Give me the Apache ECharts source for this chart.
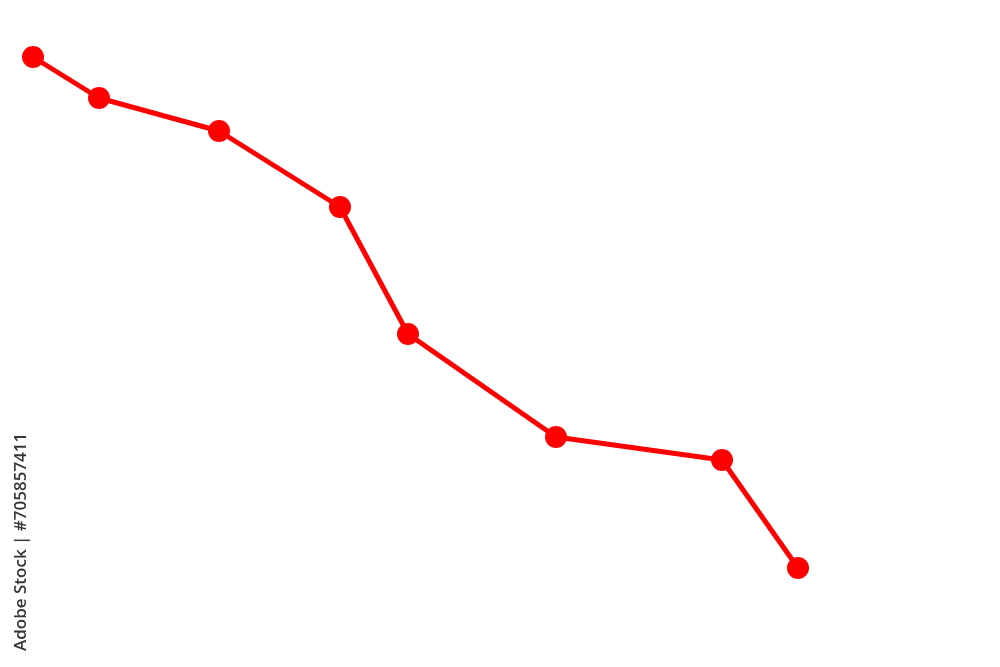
<!DOCTYPE html>
<html><head><meta charset="utf-8">
<script src="https://cdn.jsdelivr.net/npm/echarts@6/dist/echarts.min.js"></script>
<style>html,body{margin:0;padding:0;background:#fff}#c{width:1000px;height:667px}</style>
</head><body><div id="c"></div>
<script>
var xValues = [33, 99, 219, 340, 408, 556, 722, 798];
var yValues = [610, 569, 536, 460, 333, 230, 207, 99];
var watermark = 'Adobe Stock | #705857411';

var chart = echarts.init(document.getElementById('c'), null, {renderer: 'canvas'});
var data = xValues.map(function (x, i) { return [x, yValues[i]]; });
chart.setOption({
  animation: false,
  backgroundColor: '#ffffff',
  grid: {left: 0, top: 0, width: 1000, height: 667},
  xAxis: {type: 'value', min: 0, max: 1000, show: false},
  yAxis: {type: 'value', min: 0, max: 667, show: false},
  graphic: [{
    type: 'text',
    style: {text: watermark, font: '600 17px "Open Sans", sans-serif', fill: '#363636'},
    rotation: Math.PI / 2, originX: 0, originY: 0,
    x: 13, y: 651
  }],
  series: [{
    type: 'line', data: data,
    symbol: 'circle', symbolSize: 22,
    lineStyle: {color: '#ff0000', width: 5},
    itemStyle: {color: '#ff0000'}
  }]
});
</script></body></html>
